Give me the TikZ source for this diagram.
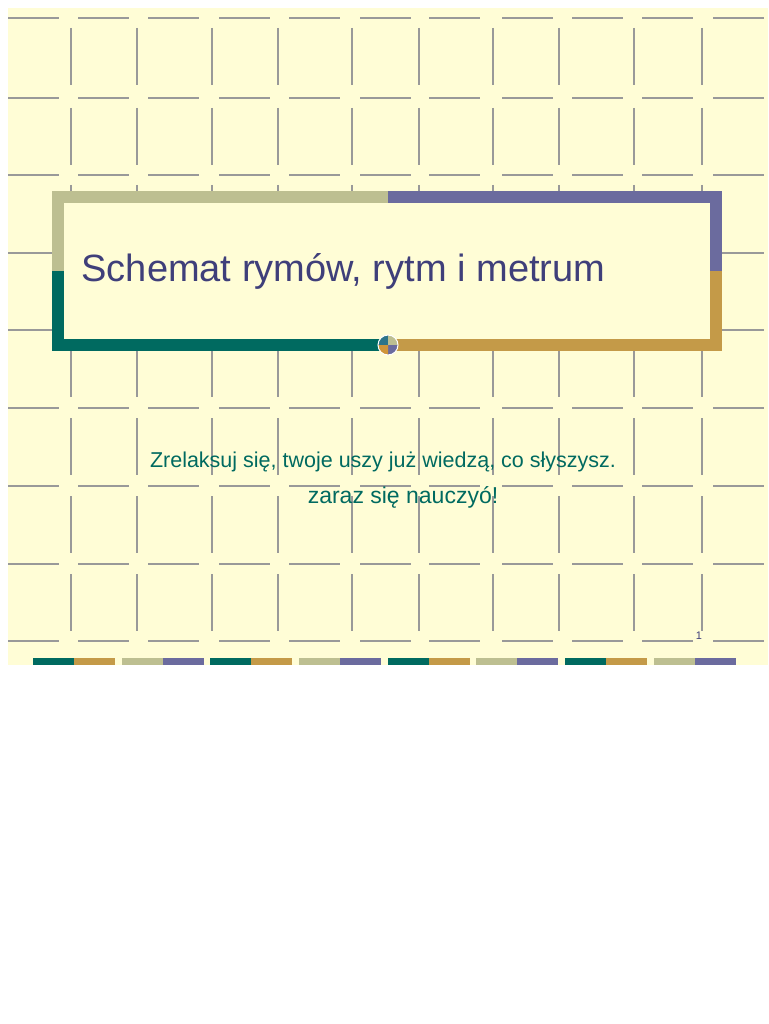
\documentclass[tikz,border=0pt]{standalone}
\usepackage{fontspec}
\setmainfont{Liberation Sans}
\definecolor{paper}{HTML}{FFFDD6}
\definecolor{gridgray}{HTML}{999999}
\definecolor{khaki}{HTML}{BDBF91}
\definecolor{plum}{HTML}{6B6B9E}
\definecolor{teal}{HTML}{006A60}
\definecolor{gold}{HTML}{C49A48}
\definecolor{ink}{HTML}{3F3F7A}
\begin{document}
\begin{tikzpicture}[x=1pt,y=-1pt]

\useasboundingbox (0,0) rectangle (768,1024);
\fill[white] (0,0) rectangle (768,1024);
\fill[paper] (8,8) rectangle (768,665);
% grid
\foreach \y in {18,98,175,253,330,408,486,564,641}
  \foreach \x in {8,78,148,219,289,360,429,502,572,642,713}
    \draw[gridgray, line width=2.5] (\x,\y) -- ++(51,0);
\foreach \x in {71,137,212,278,352,419,493,559,634,702}
  \foreach \y in {18,98,175,253,330,408,486,564}
    \draw[gridgray, line width=2] (\x,\y+10) -- ++(0,57);
% title frame
\fill[paper] (52,191) rectangle (722,351);
\fill[khaki] (52,191) rectangle (388,203);
\fill[plum] (388,191) rectangle (722,203);
\fill[khaki] (52,191) rectangle (64,271);
\fill[teal] (52,271) rectangle (64,351);
\fill[plum] (710,191) rectangle (722,271);
\fill[gold] (710,271) rectangle (722,351);
\fill[teal] (52,339) rectangle (388,351);
\fill[gold] (388,339) rectangle (722,351);
\coordinate (knob) at (388,345);
\fill[plum!60!cyan!70!black] (knob) -- ++(180:10) arc[start angle=180,end angle=270,radius=10] -- cycle;
\fill[khaki] (knob) -- ++(270:10) arc[start angle=270,end angle=360,radius=10] -- cycle;
\fill[plum] (knob) -- ++(0:10) arc[start angle=0,end angle=90,radius=10] -- cycle;
\fill[gold!80!orange] (knob) -- ++(90:10) arc[start angle=90,end angle=180,radius=10] -- cycle;
\draw[white, line width=1] (knob) circle[radius=10];
% texts
\node[anchor=west, text=ink, font=\fontsize{38}{42}\selectfont] (title) at (78,271) {Schemat rymów, rytm i metrum};
\node[text=teal, font=\fontsize{21.5}{24}\selectfont] (line1) at (383,462) {Zrelaksuj się, twoje uszy już wiedzą, co słyszysz.};
\node[text=teal, font=\fontsize{23}{26}\selectfont] (line2) at (403,497) {zaraz się nauczyó!};
\node[text=ink, font=\fontsize{11}{12}\selectfont\rmfamily] (page) at (699,636) {1};
% bottom strip
\foreach \x [count=\i] in {33,122,210,299,388,476,565,654} {
  \ifodd\i
    \fill[teal] (\x,658) rectangle ++(41,7);
    \fill[gold] (\x+41,658) rectangle ++(41,7);
  \else
    \fill[khaki] (\x,658) rectangle ++(41,7);
    \fill[plum] (\x+41,658) rectangle ++(41,7);
  \fi
}
\end{tikzpicture}
\end{document}
